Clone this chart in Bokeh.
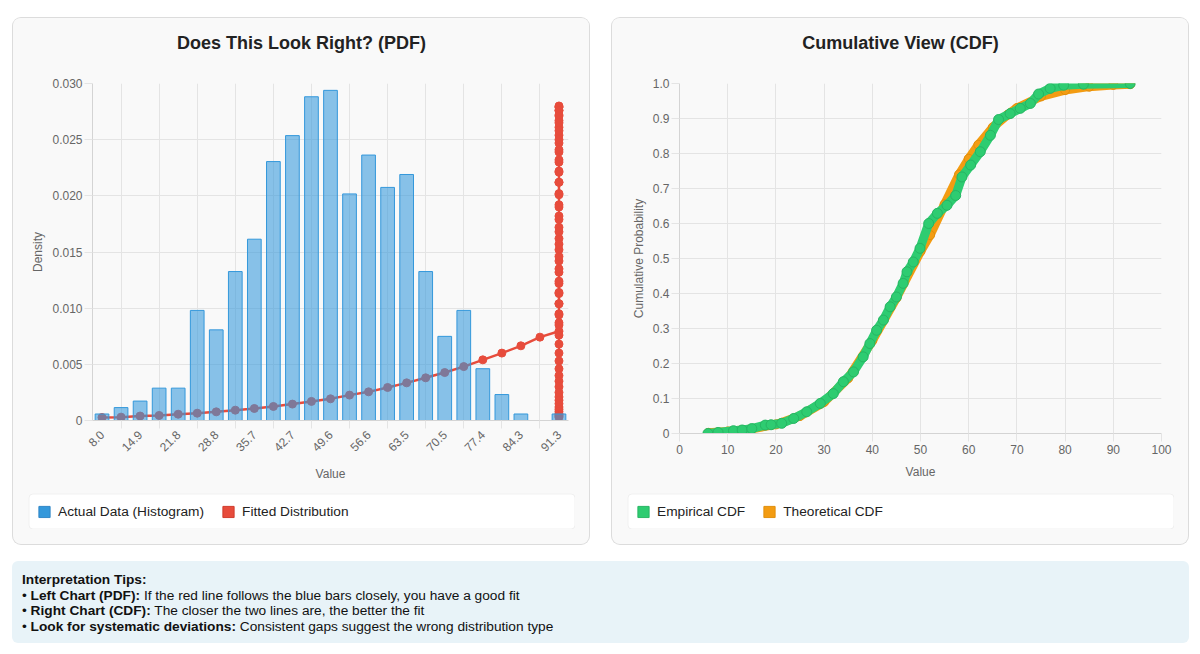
import math
from bokeh.plotting import figure
from bokeh.models import (Range1d, FixedTicker, Legend, LegendItem, BoxAnnotation,
                          Div, PrintfTickFormatter, Label)
from bokeh.layouts import column, row
from bokeh.embed import file_html
from bokeh.resources import INLINE

FONT = "Liberation Sans"

# ---------------- data: PDF chart ----------------
tick_labels = ["8.0", "14.9", "21.8", "28.8", "35.7", "42.7", "49.6",
               "56.6", "63.5", "70.5", "77.4", "84.3", "91.3"]
hist_density = [0.00058, 0.00115, 0.00173, 0.00288, 0.00288, 0.0098, 0.00807,
                0.01326, 0.01614, 0.02305, 0.02536, 0.02882, 0.02939, 0.02017,
                0.02363, 0.02075, 0.0219, 0.01326, 0.00749, 0.0098, 0.00461,
                0.00231, 0.00058, 0.0, 0.00058]
fitted_density = [0.00027, 0.0003, 0.0004, 0.00045, 0.00056, 0.00065, 0.00077,
                  0.00092, 0.00107, 0.00125, 0.00146, 0.0017, 0.00193, 0.00226,
                  0.00255, 0.00294, 0.00335, 0.0038, 0.00427, 0.0048, 0.0054,
                  0.006, 0.00665, 0.00742, 0.00795]
# remaining fitted points, all stacked on the last category
fitted_overflow = [0.0087, 0.0095, 0.0104, 0.0113, 0.0122, 0.0132, 0.0142, 0.0152,
                   0.0162, 0.0172, 0.0182, 0.0192, 0.0202, 0.0212, 0.0221, 0.0230,
                   0.0239, 0.0247, 0.0254, 0.0261, 0.0267, 0.0272, 0.0276, 0.0279,
                   0.0280, 0.0279, 0.0276, 0.0271, 0.0265, 0.0258, 0.0250, 0.0241,
                   0.0232, 0.0222, 0.0212, 0.0201, 0.0190, 0.0179, 0.0168, 0.0157,
                   0.0146, 0.0135, 0.0124, 0.0114, 0.0104, 0.0094, 0.0085, 0.0076,
                   0.0068, 0.0060, 0.0053, 0.0046, 0.0040, 0.0035, 0.0030, 0.0025,
                   0.0021, 0.0018, 0.0015, 0.0012, 0.0010, 0.0008, 0.0006, 0.0005,
                   0.0004, 0.0003]
pdf_yticks = [0, 0.005, 0.010, 0.015, 0.020, 0.025, 0.030]

# ---------------- data: CDF chart ----------------
emp_x = [5.9, 8, 11.2, 13, 15, 17.8, 19, 21.2, 23.7, 26.4, 29.2, 31.9, 34, 36.1,
         38.1, 39.5, 40.9, 42.3, 43.7, 45, 46.4, 47.2, 48.5, 49.9, 51.7, 53.5,
         55.5, 57.3, 58.6, 60.4, 62.4, 64.5, 66.2, 68.6, 70.7, 72.8, 74.5, 76.9,
         79.7, 83.8, 93.5]
emp_y = [0.0, 0.003, 0.008, 0.01, 0.014, 0.024, 0.025, 0.029, 0.043, 0.062, 0.086,
         0.114, 0.148, 0.176, 0.219, 0.257, 0.295, 0.324, 0.362, 0.39, 0.429, 0.462,
         0.49, 0.529, 0.6, 0.629, 0.652, 0.68, 0.733, 0.767, 0.805, 0.852, 0.897,
         0.914, 0.929, 0.943, 0.97, 0.986, 0.995, 0.998, 1.0]
theo_x = [6, 10, 15, 20, 25, 30, 35, 40, 45, 50, 52, 55, 58, 60, 62, 65, 68, 70,
          75, 80, 85, 90, 93.5]
theo_y = [0.002, 0.006, 0.013, 0.026, 0.05, 0.09, 0.158, 0.265, 0.387, 0.52,
          0.567, 0.655, 0.74, 0.785, 0.825, 0.875, 0.91, 0.93, 0.963, 0.981,
          0.991, 0.996, 0.998]
cdf_xticks = [0, 10, 20, 30, 40, 50, 60, 70, 80, 90, 100]
cdf_yticks = [0, 0.1, 0.2, 0.3, 0.4, 0.5, 0.6, 0.7, 0.8, 0.9, 1.0]

BLUE = "#3498db"
RED = "#e74c3c"
GREEN = "#2ecc71"
ORANGE = "#f39c12"
GRID = "#e4e4e4"
AXIS = "#d4d4d4"
CARD = "#f9f9f9"
TXT = "#666666"
LEG_FONT = "13.7px"
W = 576
TITLE_H = 40

card_styles = {"background-color": CARD, "border-radius": "8px",
               "box-shadow": "0 0 0 1px #dcdcdc", "overflow": "hidden"}


def bare_fig(width, height, y_inverted=False):
    yr = Range1d(height, 0) if y_inverted else Range1d(0, height)
    f = figure(width=width, height=height, x_range=Range1d(0, width), y_range=yr,
               output_backend="svg", toolbar_location=None,
               x_axis_location=None, y_axis_location=None,
               min_border_left=0, min_border_right=0, min_border_top=0, min_border_bottom=0,
               background_fill_color=CARD, border_fill_color=CARD, outline_line_color=None)
    f.xgrid.visible = False
    f.ygrid.visible = False
    return f


def title_fig(text):
    tf = bare_fig(W, TITLE_H, y_inverted=True)
    tf.add_layout(Label(x=W / 2, y=24.7, text=text, text_align="center",
                        text_baseline="middle", text_font=FONT, text_font_size="18px",
                        text_font_style="bold", text_color="#222222"))
    return tf


def style_axes(p):
    for ax in (p.xaxis[0], p.yaxis[0]):
        ax.axis_line_color = AXIS
        ax.major_tick_line_color = GRID
        ax.major_tick_out = 8
        ax.major_tick_in = 0
        ax.minor_tick_line_color = None
        ax.major_label_text_font = FONT
        ax.major_label_text_font_size = "12px"
        ax.major_label_text_color = TXT
        ax.axis_label_text_font = FONT
        ax.axis_label_text_font_size = "12px"
        ax.axis_label_text_font_style = "normal"
        ax.axis_label_text_color = TXT
    for g in (p.xgrid[0], p.ygrid[0]):
        g.grid_line_color = GRID


def legend_fig(items_spec):
    lf = bare_fig(547, 36)
    lf.add_layout(BoxAnnotation(left=0.5, right=546.5, bottom=0.5, top=35.5,
                                fill_color="white", fill_alpha=1, line_color="#d2d2d2",
                                line_width=1, border_radius=4, level="underlay"))
    items = []
    for label, fill, line in items_spec:
        # legend swatch source: a single off-range square (not visible in the box)
        r = lf.quad(left=[-20], right=[-10], top=[-10], bottom=[-20],
                    fill_color=fill, line_color=line)
        items.append(LegendItem(label=label, renderers=[r]))
    leg = Legend(items=items, orientation="horizontal", location="left", margin=0,
                 glyph_width=14, glyph_height=14, label_standoff=7, spacing=17, padding=9,
                 label_text_font=FONT, label_text_font_size=LEG_FONT,
                 label_text_color="#222222",
                 background_fill_alpha=0, border_line_alpha=0)
    lf.add_layout(leg)
    return lf


# ================= LEFT: PDF =================
n_bins = len(hist_density)
centers = [i + 0.5 for i in range(n_bins)]
label_pos = centers[0::2]
odd_pos = centers[1::2]

p1 = figure(width=W, height=475 - TITLE_H, x_range=Range1d(0, n_bins), y_range=Range1d(0, 0.03),
            output_backend="svg", toolbar_location=None,
            min_border_left=79, min_border_right=21, min_border_top=65 - TITLE_H,
            min_border_bottom=73,
            background_fill_color=CARD, border_fill_color=CARD, outline_line_color=None)

fit_x = centers + [centers[-1]] * len(fitted_overflow)
fit_y = fitted_density + fitted_overflow
p1.line(fit_x, fit_y, line_color=RED, line_width=2.5)
p1.scatter(fit_x, fit_y, size=8, fill_color=RED, line_color=RED)
p1.vbar(x=centers, top=hist_density, width=0.72, fill_color=BLUE, fill_alpha=0.58,
        line_color=BLUE, line_width=1)

style_axes(p1)
p1.xaxis.ticker = FixedTicker(ticks=label_pos, minor_ticks=odd_pos)
p1.xaxis.major_label_overrides = {pos: lab for pos, lab in zip(label_pos, tick_labels)}
p1.xaxis.major_tick_line_color = None
p1.xaxis.minor_tick_line_color = GRID
p1.xaxis.minor_tick_out = 8
p1.xaxis.minor_tick_in = 0
p1.xaxis.major_label_orientation = math.pi / 4
p1.xaxis.major_label_standoff = 4
p1.xaxis.axis_label = "Value"
p1.xaxis.axis_label_standoff = 9
p1.xgrid.ticker = FixedTicker(ticks=odd_pos)
p1.yaxis.ticker = FixedTicker(ticks=pdf_yticks)
p1.yaxis.formatter = PrintfTickFormatter(format="%.3f")
p1.yaxis.major_label_overrides = {0: "0"}
p1.yaxis.major_label_standoff = 2
p1.yaxis.axis_label = "Density"
p1.yaxis.axis_label_standoff = 4

t1 = title_fig("Does This Look Right? (PDF)")
lg1 = legend_fig([("Actual Data (Histogram)", BLUE, "#2f86c6"),
                  ("Fitted Distribution", RED, "#d03a2b")])

# ================= RIGHT: CDF =================
p2 = figure(width=W, height=475 - TITLE_H, x_range=Range1d(0, 100), y_range=Range1d(0, 1),
            output_backend="svg", toolbar_location=None,
            min_border_left=67, min_border_right=27, min_border_top=65 - TITLE_H,
            min_border_bottom=60,
            background_fill_color=CARD, border_fill_color=CARD, outline_line_color=None)

p2.line(theo_x, theo_y, line_color=ORANGE, line_width=9, line_join="round", line_cap="round")
p2.scatter(theo_x, theo_y, size=9, fill_color=ORANGE, line_color="#e08e0b")
p2.line(emp_x, emp_y, line_color=GREEN, line_width=9, line_join="round", line_cap="round")
p2.scatter(emp_x, emp_y, size=10, fill_color=GREEN, line_color="#27b563")

style_axes(p2)
p2.xaxis.ticker = FixedTicker(ticks=cdf_xticks)
p2.xgrid.ticker = FixedTicker(ticks=cdf_xticks)
p2.xaxis.major_label_standoff = 3
p2.xaxis.axis_label = "Value"
p2.xaxis.axis_label_standoff = 8
p2.yaxis.ticker = FixedTicker(ticks=cdf_yticks)
p2.ygrid.ticker = FixedTicker(ticks=cdf_yticks)
p2.yaxis.formatter = PrintfTickFormatter(format="%.1f")
p2.yaxis.major_label_overrides = {0: "0"}
p2.yaxis.major_label_standoff = 2
p2.yaxis.axis_label = "Cumulative Probability"
p2.yaxis.axis_label_standoff = 4

t2 = title_fig("Cumulative View (CDF)")
lg2 = legend_fig([("Empirical CDF", GREEN, "#27b563"),
                  ("Theoretical CDF", ORANGE, "#e08e0b")])

# ================= tips box =================
tips = Div(text=("<b>Interpretation Tips:</b><br>"
                 "&bull; <b>Left Chart (PDF):</b> If the red line follows the blue bars closely, you have a good fit<br>"
                 "&bull; <b>Right Chart (CDF):</b> The closer the two lines are, the better the fit<br>"
                 "&bull; <b>Look for systematic deviations:</b> Consistent gaps suggest the wrong distribution type"),
           width=1177, height=82,
           styles={"background-color": "#e8f3f8", "border-radius": "6px",
                   "padding": "11px 10px 6px 10px", "box-sizing": "border-box",
                   "font-family": "'Liberation Sans', Arial, sans-serif",
                   "font-size": LEG_FONT, "line-height": "15.6px", "color": "#111111"})

# each piece wrapped in its own column so that plot frames are not aligned to each other
def card(title_f, chart_f, legend_f, margin):
    tw = column(title_f)
    cw = column(chart_f)
    lw = column(legend_f)
    lw.margin = (0, 0, 15, 15)
    c = column(tw, cw, lw, styles=card_styles)
    c.margin = margin
    return c


card1 = card(t1, p1, lg1, (18, 0, 0, 13))
card2 = card(t2, p2, lg2, (18, 0, 0, 23))
tips.margin = (17, 0, 0, 12)
layout = column(row(card1, card2), tips)

open("out.html", "w").write(file_html(layout, INLINE))
